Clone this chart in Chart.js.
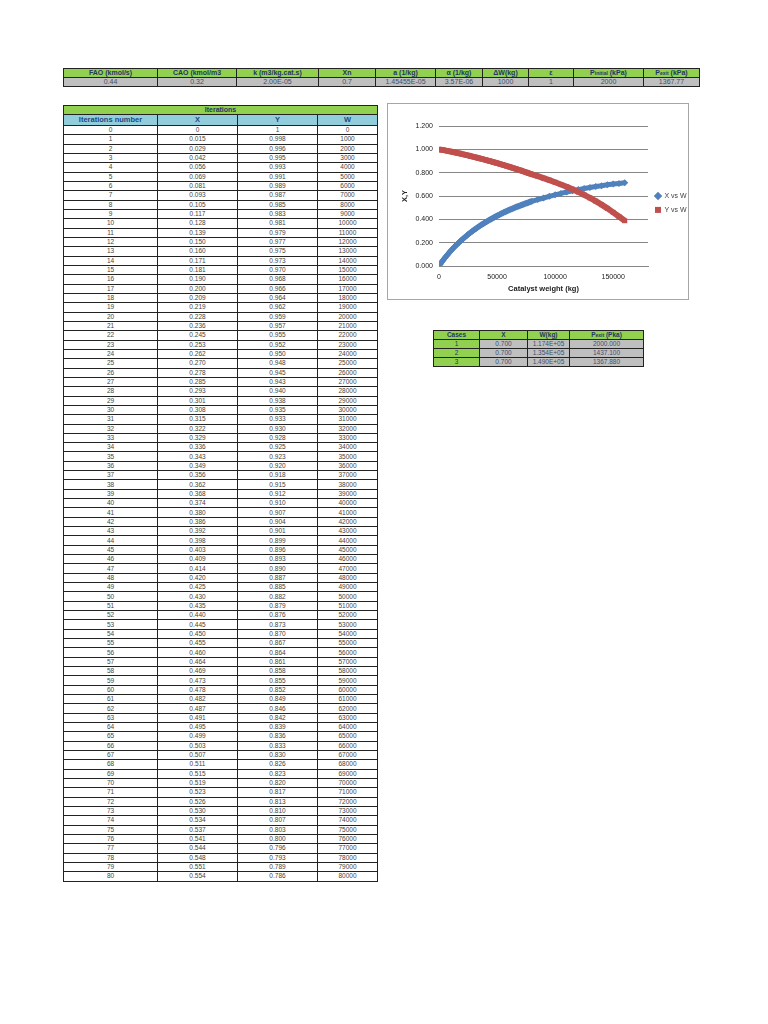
<!doctype html>
<html lang="en">

<head>
    <meta charset="utf-8">
    <title>Iterations - X, Y vs W</title>
    <style>
        * {
            margin: 0;
            padding: 0;
            font-family: "Liberation Sans", Arial, sans-serif;
        }

        body {
            width: 768px;
            height: 1024px;
            background: white;
            position: relative;
        }

        table {
            position: absolute;
            border-collapse: collapse;
            table-layout: fixed;
        }

        td {
            border: 1px solid #222;
            text-align: center;
            white-space: nowrap;
            overflow: hidden;
            padding: 0;
        }

        sub {
            font-size: 5px;
            vertical-align: baseline;
        }

        .green {
            background: #92d050;
            color: #1f3864;
            font-weight: bold;
        }

        .grey {
            background: #bfbfbf;
            color: #3c4f70;
        }

        .blue {
            background: #92cddc;
            color: #1f497d;
            font-weight: bold;
        }

        #params {
            left: 63px;
            top: 68px;
            width: 636px;
        }

        #params td {
            height: 8px;
            line-height: 8px;
            font-size: 7px;
        }

        #iters {
            left: 63px;
            top: 105px;
            width: 314px;
        }

        #iters td {
            height: 8.33px;
            line-height: 8px;
            font-size: 6.5px;
            color: #444;
        }

        #iters tr.title td {
            height: 7.5px;
            font-size: 7px;
            color: #1f3864;
        }

        #iters tr.head td {
            height: 10px;
            font-size: 7.5px;
            color: #1f497d;
        }

        #cases {
            left: 433px;
            top: 330px;
            width: 210px;
        }

        #cases td {
            height: 8px;
            line-height: 8px;
            font-size: 6.5px;
        }

        .chartBox {
            position: absolute;
            left: 387px;
            top: 103px;
            width: 300px;
            height: 195px;
            border: 1px solid #a6a6a6;
            background: white;
        }
    </style>
</head>

<body>
    <table id="params"></table>
    <table id="iters"></table>
    <table id="cases"></table>

    <div class="chartBox">
        <canvas id="myChart"></canvas>
    </div>

    <script src="https://cdn.jsdelivr.net/npm/chart.js"></script>

    <script>
        // parameters strip at the top
        const paramHeads = ['FAO (kmol/s)', 'CAO (kmol/m3', 'k (m3/kg.cat.s)', 'Xn', 'a (1/kg)',
            'α (1/kg)', 'ΔW(kg)', 'ε', 'P<sub>initial</sub> (kPa)', 'P<sub>exit</sub> (kPa)']
        const paramValues = ['0.44', '0.32', '2.00E-05', '0.7', '1.45455E-05', '3.57E-06',
            '1000', '1', '2000', '1367.77']
        const paramWidths = [94, 79, 82, 57, 60, 47, 46, 45, 70, 56]

        // iterations table
        const iterNumber = [0, 1, 2, 3, 4, 5, 6, 7, 8, 9, 10, 11, 12, 13, 14, 15, 16, 17, 18, 19, 20,
            21, 22, 23, 24, 25, 26, 27, 28, 29, 30, 31, 32, 33, 34, 35, 36, 37, 38, 39, 40,
            41, 42, 43, 44, 45, 46, 47, 48, 49, 50, 51, 52, 53, 54, 55, 56, 57, 58, 59, 60,
            61, 62, 63, 64, 65, 66, 67, 68, 69, 70, 71, 72, 73, 74, 75, 76, 77, 78, 79, 80]
        const xValues = [0, 0.015, 0.029, 0.042, 0.056, 0.069, 0.081, 0.093, 0.105, 0.117, 0.128,
            0.139, 0.150, 0.160, 0.171, 0.181, 0.190, 0.200, 0.209, 0.219, 0.228,
            0.236, 0.245, 0.253, 0.262, 0.270, 0.278, 0.285, 0.293, 0.301, 0.308,
            0.315, 0.322, 0.329, 0.336, 0.343, 0.349, 0.356, 0.362, 0.368, 0.374,
            0.380, 0.386, 0.392, 0.398, 0.403, 0.409, 0.414, 0.420, 0.425, 0.430,
            0.435, 0.440, 0.445, 0.450, 0.455, 0.460, 0.464, 0.469, 0.473, 0.478,
            0.482, 0.487, 0.491, 0.495, 0.499, 0.503, 0.507, 0.511, 0.515, 0.519,
            0.523, 0.526, 0.530, 0.534, 0.537, 0.541, 0.544, 0.548, 0.551, 0.554]
        const yValues = [1, 0.998, 0.996, 0.995, 0.993, 0.991, 0.989, 0.987, 0.985, 0.983, 0.981,
            0.979, 0.977, 0.975, 0.973, 0.970, 0.968, 0.966, 0.964, 0.962, 0.959,
            0.957, 0.955, 0.952, 0.950, 0.948, 0.945, 0.943, 0.940, 0.938, 0.935,
            0.933, 0.930, 0.928, 0.925, 0.923, 0.920, 0.918, 0.915, 0.912, 0.910,
            0.907, 0.904, 0.901, 0.899, 0.896, 0.893, 0.890, 0.887, 0.885, 0.882,
            0.879, 0.876, 0.873, 0.870, 0.867, 0.864, 0.861, 0.858, 0.855, 0.852,
            0.849, 0.846, 0.842, 0.839, 0.836, 0.833, 0.830, 0.826, 0.823, 0.820,
            0.817, 0.813, 0.810, 0.807, 0.803, 0.800, 0.796, 0.793, 0.789, 0.786]
        const wValues = [0, 1000, 2000, 3000, 4000, 5000, 6000, 7000, 8000, 9000, 10000,
            11000, 12000, 13000, 14000, 15000, 16000, 17000, 18000, 19000, 20000,
            21000, 22000, 23000, 24000, 25000, 26000, 27000, 28000, 29000, 30000,
            31000, 32000, 33000, 34000, 35000, 36000, 37000, 38000, 39000, 40000,
            41000, 42000, 43000, 44000, 45000, 46000, 47000, 48000, 49000, 50000,
            51000, 52000, 53000, 54000, 55000, 56000, 57000, 58000, 59000, 60000,
            61000, 62000, 63000, 64000, 65000, 66000, 67000, 68000, 69000, 70000,
            71000, 72000, 73000, 74000, 75000, 76000, 77000, 78000, 79000, 80000]

        // rest of the curves (past the table)
        const wChartTail = [85000, 90000, 95000, 100000, 105000, 110000, 115000, 120000,
            125000, 130000, 135000, 140000, 145000, 150000, 155000, 160000]
        const xChartTail = [0.569, 0.583, 0.597, 0.610, 0.622, 0.634, 0.645, 0.655,
            0.664, 0.673, 0.681, 0.688, 0.696, 0.702, 0.708, 0.714]
        const yChartTail = [0.770, 0.753, 0.736, 0.718, 0.699, 0.679, 0.658, 0.635,
            0.610, 0.584, 0.556, 0.526, 0.494, 0.460, 0.424, 0.388]

        // x axis labels
        const xTickLabels = ['0', '50000', '100000', '150000']

        // cases table
        const caseHeads = ['Cases', 'X', 'W(kg)', 'P<sub>exit</sub> (Pka)']
        const caseNumbers = ['1', '2', '3']
        const caseX = ['0.700', '0.700', '0.700']
        const caseW = ['1.174E+05', '1.354E+05', '1.490E+05']
        const caseP = ['2000.000', '1437.100', '1367.880']
        const caseWidths = [46, 48, 42, 74]

        // build tables
        const colgroup = widths => '<colgroup>' + widths.map(w => `<col style="width:${w}px">`).join('') + '</colgroup>'

        document.getElementById('params').innerHTML = colgroup(paramWidths) +
            '<tr>' + paramHeads.map(h => `<td class="green">${h}</td>`).join('') + '</tr>' +
            '<tr>' + paramValues.map(v => `<td class="grey">${v}</td>`).join('') + '</tr>'

        let iterHtml = colgroup([94, 80, 80, 60]) +
            '<tr class="title"><td class="green" colspan="4">Iterations</td></tr>' +
            '<tr class="head"><td class="blue">Iterations number</td><td class="blue">X</td><td class="blue">Y</td><td class="blue">W</td></tr>'
        iterNumber.forEach((n, i) => {
            const xs = i === 0 ? '0' : xValues[i].toFixed(3)
            const ys = i === 0 ? '1' : yValues[i].toFixed(3)
            iterHtml += `<tr><td>${n}</td><td>${xs}</td><td>${ys}</td><td>${wValues[i]}</td></tr>`
        })
        document.getElementById('iters').innerHTML = iterHtml

        let caseHtml = colgroup(caseWidths) +
            '<tr>' + caseHeads.map(h => `<td class="green">${h}</td>`).join('') + '</tr>'
        caseNumbers.forEach((c, i) => {
            caseHtml += `<tr><td class="green" style="font-weight:normal">${c}</td><td class="grey">${caseX[i]}</td>` +
                `<td class="grey">${caseW[i]}</td><td class="grey">${caseP[i]}</td></tr>`
        })
        document.getElementById('cases').innerHTML = caseHtml

        // chart data
        const xPoints = wValues.map((w, i) => ({ x: w, y: xValues[i] }))
            .concat(wChartTail.map((w, i) => ({ x: w, y: xChartTail[i] })))
        const yPoints = wValues.map((w, i) => ({ x: w, y: yValues[i] }))
            .concat(wChartTail.map((w, i) => ({ x: w, y: yChartTail[i] })))

        const data = {
            datasets: [
                {
                    label: 'X vs W',
                    data: xPoints,
                    showLine: true,
                    borderColor: '#4f81bd',
                    backgroundColor: '#4f81bd',
                    borderWidth: 5,
                    pointStyle: 'rectRot',
                    pointRadius: 3.5,
                    pointBorderWidth: 0,
                    order: 2
                },
                {
                    label: 'Y vs W',
                    data: yPoints,
                    showLine: true,
                    borderColor: '#c0504d',
                    backgroundColor: '#c0504d',
                    borderWidth: 6,
                    pointStyle: 'rect',
                    pointRadius: 3.5,
                    pointBorderWidth: 0,
                    order: 1
                }
            ]
        }

        const config = {
            type: 'scatter',
            data: data,
            options: {
                responsive: true,
                maintainAspectRatio: false,
                animation: false,
                layout: {
                    padding: { left: 12, right: 0, top: 22, bottom: 6 }
                },
                plugins: {
                    tooltip: { enabled: false },
                    legend: {
                        position: 'right',
                        align: 'start',
                        maxWidth: 40,
                        title: {
                            display: true,
                            text: ' ',
                            font: { size: 7 },
                            padding: { top: 0, bottom: 51 }
                        },
                        labels: {
                            usePointStyle: true,
                            boxWidth: 6,
                            boxHeight: 6,
                            padding: 7,
                            color: '#404040',
                            font: { size: 7 },
                            sort: (a, b) => a.datasetIndex - b.datasetIndex
                        }
                    }
                },
                scales: {
                    x: {
                        type: 'linear',
                        min: 0,
                        max: 180000,
                        grid: { display: false, drawTicks: false },
                        border: { display: true, color: '#868686' },
                        afterBuildTicks: function (scale) {
                            scale.ticks = xTickLabels.map(v => ({ value: Number(v) }))
                        },
                        ticks: {
                            autoSkip: false,
                            maxRotation: 0,
                            padding: 7,
                            color: '#222',
                            font: { size: 7 },
                            callback: function (value) {
                                return String(value)
                            }
                        },
                        title: {
                            display: true,
                            text: 'Catalyst weight (kg)',
                            color: '#222',
                            font: { size: 7.5, weight: 'bold' },
                            padding: { top: 2, bottom: 0 }
                        },
                        afterFit: function (scale) {
                            scale.height = 27
                        }
                    },
                    y: {
                        min: 0,
                        max: 1.2,
                        grid: { color: '#868686', drawTicks: false },
                        border: { display: false },
                        ticks: {
                            stepSize: 0.2,
                            padding: 6,
                            color: '#222',
                            font: { size: 7 },
                            callback: function (value) {
                                return value.toFixed(3)
                            }
                        },
                        title: {
                            display: true,
                            text: 'X,Y',
                            color: '#222',
                            font: { size: 7.5, weight: 'bold' },
                            padding: 0
                        },
                        afterFit: function (scale) {
                            scale.width = 39
                        }
                    }
                }
            }
        }

        const myChart = new Chart(
            document.getElementById('myChart'),
            config
        )
    </script>
</body>

</html>
